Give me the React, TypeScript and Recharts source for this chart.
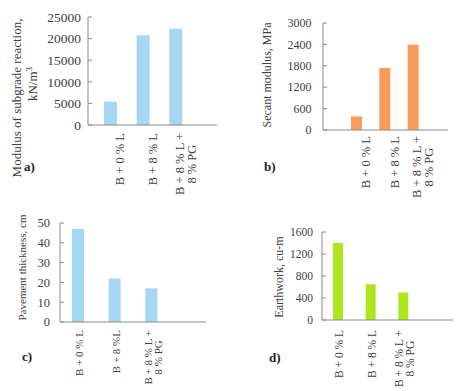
import React from 'react';
import { BarChart, Bar, XAxis, YAxis } from 'recharts';

// category labels (\n = line break inside a label)
const categoriesAB = ['B + 0 % L', 'B + 8 % L', 'B + 8 % L +\n8 % PG'];
const categoriesC = ['B + 0 % L', 'B + 8 %L', 'B + 8 % L +\n8 % PG'];
const categoriesD = ['B + 0 % L', 'B + 8 % L', 'B + 8 % L +\n8 % PG'];

// series values
const subgradeModulus = [5400, 20800, 22300];
const secantModulus = [380, 1740, 2390];
const pavementThickness = [47, 22, 17];
const earthwork = [1400, 650, 500];

// y tick labels
const ticksA = [0, 5000, 10000, 15000, 20000, 25000];
const ticksB = [0, 600, 1200, 1800, 2400, 3000];
const ticksC = [0, 10, 20, 30, 40, 50];
const ticksD = [0, 400, 800, 1200, 1600];

const FONT = '"Liberation Serif", "Times New Roman", serif';
const TEXT = '#404040';
const AXIS = '#8a8a8a';

const toRows = (cats: string[], vals: number[]) => cats.map((name, i) => ({ name, value: vals[i] }));

function CategoryTick(props: any) {
  const { x, y, payload, fontSize, dx, gap } = props;
  const lines = String(payload.value).split('\n');
  const lh = fontSize * 0.92;
  const base = x + dx + fontSize * 0.33 - ((lines.length - 1) * lh) / 2;
  const top = y + gap;
  const w0 = lines[0].length * 0.453 * fontSize;
  return (
    <g>
      {lines.map((line, i) => {
        const bx = base + i * lh;
        const ty = i === 0 ? top : top + w0 / 2;
        return (
          <text
            key={i}
            x={bx}
            y={ty}
            transform={`rotate(-90, ${bx}, ${ty})`}
            textAnchor={i === 0 ? 'end' : 'middle'}
            fontSize={fontSize}
            fontFamily={FONT}
            fill={TEXT}
          >
            {line}
          </text>
        );
      })}
    </g>
  );
}

type TitleLine = { text: string; x: number; y: number; sup?: string };

interface PanelProps {
  left: number;
  top: number;
  width: number;
  height: number;
  data: { name: string; value: number }[];
  color: string;
  barSize: number;
  max: number;
  ticks: number[];
  plot: { l: number; t: number; r: number; b: number };
  padL: number;
  padR: number;
  tickFont: number;
  tickGap: number;
  catFont: number;
  catDx: number;
  catGap: number;
  title: TitleLine[];
  titleFont: number;
  tag: string;
  tagX: number;
  tagY: number;
}

function Panel(p: PanelProps) {
  const titleContent = () => (
    <g>
      {p.title.map((t, i) => (
        <text
          key={i}
          x={t.x}
          y={t.y}
          transform={`rotate(-90, ${t.x}, ${t.y})`}
          textAnchor="middle"
          fontSize={p.titleFont}
          fontFamily={FONT}
          fill={TEXT}
        >
          {t.text}
          {t.sup && (
            <tspan dy={-5} fontSize={p.titleFont * 0.7}>
              {t.sup}
            </tspan>
          )}
        </text>
      ))}
      <text x={p.tagX} y={p.tagY} fontSize={13} fontWeight="bold" fontFamily={FONT} fill="#222">
        {p.tag}
      </text>
    </g>
  );

  return (
    <div style={{ position: 'absolute', left: p.left, top: p.top }}>
      <BarChart
        width={p.width}
        height={p.height}
        data={p.data}
        margin={{ top: p.plot.t, right: p.width - p.plot.r, bottom: 0, left: 0 }}
      >
        <XAxis
          dataKey="name"
          interval={0}
          height={p.height - p.plot.b}
          padding={{ left: p.padL, right: p.padR }}
          axisLine={{ stroke: AXIS }}
          tickLine={false}
          tickSize={0}
          tickMargin={0}
          tick={<CategoryTick fontSize={p.catFont} dx={p.catDx} gap={p.catGap} />}
        />
        <YAxis
          width={p.plot.l}
          domain={[0, p.max]}
          ticks={p.ticks}
          interval={0}
          axisLine={{ stroke: AXIS }}
          tickLine={{ stroke: AXIS }}
          tickSize={-4}
          tickMargin={4 + p.tickGap}
          tick={{ fill: TEXT, fontSize: p.tickFont, fontFamily: FONT }}
          label={{ content: titleContent }}
        />
        <Bar dataKey="value" fill={p.color} barSize={p.barSize} isAnimationActive={false} />
      </BarChart>
    </div>
  );
}

export default function App() {
  return (
    <div style={{ position: 'absolute', left: 0, top: 0, width: 474, height: 391, background: '#fff' }}>
      <Panel
        left={0}
        top={0}
        width={237}
        height={212}
        data={toRows(categoriesAB, subgradeModulus)}
        color="#a6d8f3"
        barSize={13}
        max={25000}
        ticks={ticksA}
        plot={{ l: 88, t: 17, r: 217, b: 125 }}
        padL={6}
        padR={25}
        tickFont={13.5}
        tickGap={7}
        catFont={12.5}
        catDx={10}
        catGap={8}
        title={[
          { text: 'Modulus of subgrade reaction,', x: 20.5, y: 98 },
          { text: 'kN/m', sup: '3', x: 37, y: 84 },
        ]}
        titleFont={13}
        tag="a)"
        tagX={24}
        tagY={171}
      />
      <Panel
        left={237}
        top={0}
        width={237}
        height={212}
        data={toRows(categoriesAB, secantModulus)}
        color="#f99b5b"
        barSize={11}
        max={3000}
        ticks={ticksB}
        plot={{ l: 86, t: 23, r: 211, b: 130 }}
        padL={19}
        padR={21}
        tickFont={12}
        tickGap={11.5}
        catFont={12.5}
        catDx={10}
        catGap={6}
        title={[{ text: 'Secant modulus, MPa', x: 34, y: 75 }]}
        titleFont={12}
        tag="b)"
        tagX={27}
        tagY={171}
      />
      <Panel
        left={0}
        top={190}
        width={237}
        height={201}
        data={toRows(categoriesC, pavementThickness)}
        color="#a6d8f3"
        barSize={12}
        max={50}
        ticks={ticksC}
        plot={{ l: 60, t: 33, r: 206, b: 132 }}
        padL={0}
        padR={36}
        tickFont={12.5}
        tickGap={10}
        catFont={11}
        catDx={1.5}
        catGap={8}
        title={[{ text: 'Pavement thickness, cm', x: 26, y: 77.5 }]}
        titleFont={11}
        tag="c)"
        tagX={22}
        tagY={171}
      />
      <Panel
        left={237}
        top={190}
        width={237}
        height={201}
        data={toRows(categoriesD, earthwork)}
        color="#aee61c"
        barSize={10}
        max={1600}
        ticks={ticksD}
        plot={{ l: 85, t: 42, r: 216, b: 130 }}
        padL={0}
        padR={33}
        tickFont={11.5}
        tickGap={9}
        catFont={11.5}
        catDx={1}
        catGap={10}
        title={[{ text: 'Earthwork, cu-m', x: 46, y: 87 }]}
        titleFont={12}
        tag="d)"
        tagX={32}
        tagY={172}
      />
    </div>
  );
}
